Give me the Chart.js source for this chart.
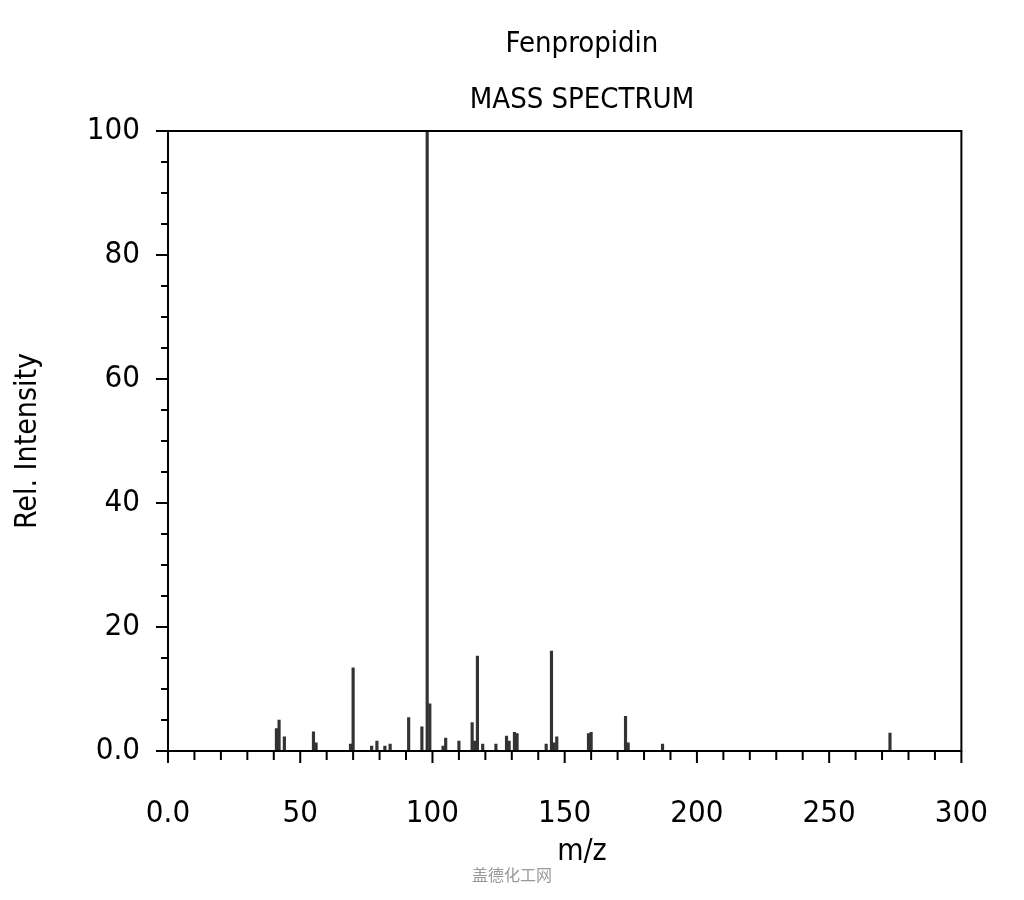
<!DOCTYPE html><html><head><script src="https://cdn.jsdelivr.net/npm/chart.js"></script>
<style>body{margin:0;background:#fff}</style></head><body>
<canvas id="c" width="1024" height="900" style="width:1024px;height:900px"></canvas>
<script>
const mz = [41,42,44,55,56,69,70,77,79,82,84,91,96,98,99,104,105,110,115,116,117,119,124,128,129,131,132,143,145,146,147,159,160,173,174,187,273];
const intensity = [3.6,5.0,2.3,3.1,1.3,1.1,13.4,0.8,1.6,0.8,1.1,5.4,3.9,100,7.6,0.8,2.1,1.6,4.6,1.6,15.3,1.1,1.1,2.4,1.6,3.0,2.8,1.1,16.1,1.3,2.3,2.8,3.0,5.6,1.3,1.1,2.9];
const titleLines = ["Fenpropidin","MASS SPECTRUM"];
const xTitle = "m/z", yTitle = "Rel. Intensity", watermark = "盖德化工网";
const F = "'DejaVu Sans Condensed','DejaVu Sans', sans-serif";
const deco = {id:'deco', afterDraw(ch){
  const c=ch.ctx, a=ch.chartArea; c.save();
  c.strokeStyle='#000'; c.lineWidth=2; c.strokeRect(a.left,a.top,a.right-a.left,a.bottom-a.top);
  const xs=ch.scales.x, ys=ch.scales.y; c.lineWidth=2;
  for(let v=0;v<=300;v+=10){const p=xs.getPixelForValue(v);c.beginPath();c.moveTo(p,a.bottom);c.lineTo(p,a.bottom+(v%50===0?12:9));c.stroke();}
  for(let v=0;v<=100;v+=5){const p=ys.getPixelForValue(v);c.beginPath();c.moveTo(a.left,p);c.lineTo(a.left-(v%20===0?12:7),p);c.stroke();}
  c.fillStyle='#000'; c.textAlign='center'; c.textBaseline='middle';
  c.font="29px "+F; c.fillText(titleLines[0],582,44); c.fillText(titleLines[1],582,100);
  c.font="30px "+F; c.fillText(xTitle,582,852);
  c.save(); c.translate(28,441); c.rotate(-Math.PI/2); c.fillText(yTitle,0,0); c.restore();
  c.font="16px 'Noto Sans CJK SC'"; c.fillStyle='#999'; c.fillText(watermark,512,875);
  c.restore();
}};
new Chart(document.getElementById('c'),{
  type:'bar',
  data:{datasets:[{data:mz.map((m,i)=>({x:m,y:intensity[i]})),backgroundColor:'#333',barThickness:2.5}]},
  options:{responsive:false,animation:false,
    layout:{padding:{top:131,right:31,left:0,bottom:0}},
    plugins:{legend:{display:false},tooltip:{enabled:false}},
    scales:{
      x:{type:'linear',min:0,max:300,offset:false,
        afterFit(s){s.height=149;},
        grid:{display:false},border:{display:false},
        ticks:{stepSize:50,color:'#000',font:{family:F,size:31},padding:36,maxRotation:0,
          callback:v=>v===0?'0.0':v}},
      y:{min:0,max:100,
        afterFit(s){s.width=168;},
        grid:{display:false},border:{display:false},
        ticks:{stepSize:20,color:'#000',font:{family:F,size:31},padding:20,
          callback:v=>v===0?'0.0':v}}
    }}, plugins:[deco]});
</script></body></html>
